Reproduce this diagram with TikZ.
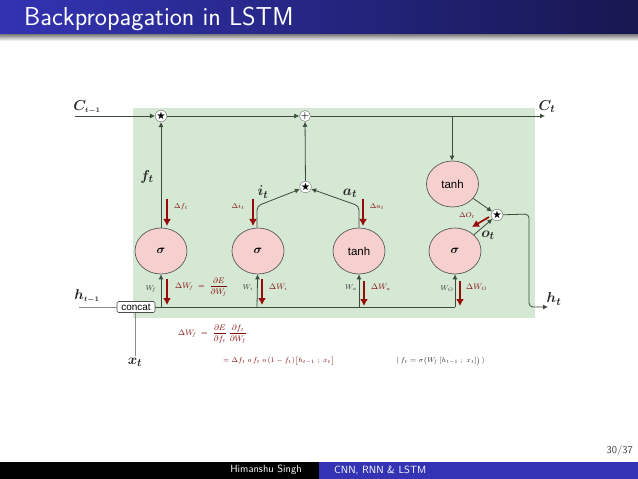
\documentclass[tikz,border=0pt]{standalone}
\usepackage{amsmath,amssymb}
\usepackage{fontspec}
\newfontfamily\helv{Liberation Sans}
\usetikzlibrary{arrows.meta,calc,shapes.geometric}
\definecolor{gr}{RGB}{213,232,212}
\definecolor{pk}{RGB}{246,208,206}
\definecolor{dred}{RGB}{150,10,10}
\definecolor{lin}{RGB}{60,75,60}
\definecolor{bbl}{RGB}{51,51,179}
\tikzset{
 x=1bp,y=-1bp,
 cell/.style={draw=black!65,fill=pk,ellipse,minimum width=52bp,minimum height=46bp,inner sep=0pt,line width=.7pt,font=\fontsize{13}{14}\selectfont},
 op/.style={draw=black!50,fill=white,circle,minimum size=11bp,inner sep=0pt,line width=.5pt,font=\small},
 conn/.style={draw=lin,line width=.8pt,-{Latex[length=5bp,width=5bp]},rounded corners=4bp},
 plainc/.style={draw=lin,line width=.8pt},
 grad/.style={draw=dred,line width=1.7pt,-{Latex[length=7bp,width=8bp]}},
 redt/.style={text=dred!85!black,font=\fontsize{7}{8}\selectfont,inner sep=0pt},
 redw/.style={redt,anchor=west,font=\fontsize{7.8}{9}\selectfont},
 lab/.style={font=\boldmath\fontsize{15}{16}\selectfont,inner sep=0pt,text=black!85},
 wlab/.style={font=\fontsize{7.5}{8}\selectfont,inner sep=0pt,text=black!80},
 tanht/.style={font=\helv\fontsize{11.5}{12}\selectfont},
 foot/.style={text=white,font=\sffamily\fontsize{10.5}{12}\selectfont,inner sep=0pt},
}
\begin{document}
\begin{tikzpicture}
\useasboundingbox (0,0) rectangle (638,479);
\fill[white] (0,0) rectangle (638,479);
% title bar
\shade[left color=bbl,right color=bbl!45!black] (0,0) rectangle (638,35);
\shade[top color=black!45,bottom color=white] (0,35) rectangle (638,41);
\node[anchor=west,text=white,font=\sffamily\fontsize{26}{28}\selectfont,inner sep=0pt] (title) at (24,19) {Backpropagation in LSTM};
% footer
\fill[black] (0,462) rectangle (319,479);
\fill[bbl] (319,462) rectangle (638,479);
\node[foot] (auth) at (266,470) {Himanshu Singh};
\node[foot,anchor=west] (talk) at (334,470) {CNN, RNN \& LSTM};
\node[foot,text=black!75,anchor=east] (page) at (633,451) {30/37};
% panel
\fill[gr] (133,108) rectangle (535,318);
% coordinates
\coordinate (cin) at (75,116);
\coordinate (cout) at (545,116);
\coordinate (hin) at (79,307);
\coordinate (hout) at (548,307);
\coordinate (xin) at (135,356);
\coordinate (tap) at (452,116);
% ops
\node[op] (s1) at (161,116) {$\bigstar$};
\node[op] (plus) at (305,116) {$\boldsymbol{+}$};
\node[op] (s2) at (305.5,187) {$\bigstar$};
\node[op] (s3) at (497,215) {$\bigstar$};
% cells
\node[cell] (sf) at (161,251) {$\boldsymbol{\sigma}$};
\node[cell] (si) at (258,251) {$\boldsymbol{\sigma}$};
\node[cell,tanht] (ta) at (359,251) {tanh};
\node[cell] (so) at (455,251) {$\boldsymbol{\sigma}$};
\node[cell,tanht] (tt) at (452.5,184) {tanh};
% main lines
\draw[conn] (cin) -- (s1);
\draw[conn] (s1) -- (plus);
\draw[conn] (plus) -- (cout);
\draw[conn] (tap) -- (tap |- tt.north);
\draw[conn] (sf) -- (s1);
\draw[conn] (s2) -- (plus);
\draw[conn] (si.north -| 257,0) -- (257,206) -- (s2);
\draw[conn] (ta.north -| 359,0) -- (359,206) -- (s2);
\draw[conn] (tt) -- (s3);
\draw[conn] (so) -- (s3);
\draw[conn] (s3) -- (529,214) -- (529,307) -- (hout);
% bottom line
\coordinate (bw) at (455,307);
\draw[plainc] (hin -| 155,0) -- (bw);
\draw[conn] (161,307) -- (sf);
\draw[conn] (257,307) -- (si);
\draw[conn] (359,307) -- (ta);
\draw[conn] (bw) -- (so);
\node[draw=black!70,fill=white,rounded corners=1.5bp,font=\helv\fontsize{10}{11}\selectfont,inner sep=0pt,minimum width=38bp,minimum height=11bp,line width=.6pt] (concat) at (136,307) {concat};
\draw[draw=black!45,line width=.8pt] (hin) -- (concat);
\draw[draw=black!45,line width=.8pt] (xin) -- (concat.south -| xin);
% grads
\draw[grad] (167,199) -- (167,226);
\draw[grad] (253,199) -- (253,226);
\draw[grad] (363,199) -- (363,226);
\draw[grad] (489,217) -- (472,227);
\draw[grad] (167,279) -- (167,305);
\draw[grad] (262,279) -- (262,305);
\draw[grad] (364,281) -- (364,306);
\draw[grad] (460,281) -- (460,306);
% labels
\node[lab] (lc0) at (87,107) {$C_{\scriptscriptstyle t-1}$};
\node[lab] (lc1) at (547,107) {$C_t$};
\node[lab] (lh0) at (87,296) {$h_{\scriptscriptstyle t-1}$};
\node[lab] (lh1) at (554,299) {$h_t$};
\node[lab] (lx) at (135,362) {$x_t$};
\node[lab] (lf) at (147,177) {$f_t$};
\node[lab] (li) at (263,192) {$i_t$};
\node[lab] (la) at (350,193) {$a_t$};
\node[lab] (lo) at (488,235) {$o_t$};
\node[redt] (df) at (181,207) {$\Delta f_t$};
\node[redt] (di) at (238,207) {$\Delta i_t$};
\node[redt] (da) at (377,207) {$\Delta a_t$};
\node[redt] (dO) at (467,216) {$\Delta O_t$};
\node[wlab] (wf) at (151,289) {$W_{\!f}$};
\node[wlab] (wi) at (248,288) {$W_i$};
\node[wlab] (wa) at (351,288) {$W_a$};
\node[wlab] (wo) at (447,289) {$W_O$};
\node[redw] (dwf) at (175,287) {$\Delta W_{\!f}\;=\;\dfrac{\partial E}{\partial W_{\!f}}$};
\node[redw] (dwi) at (269,287) {$\Delta W_i$};
\node[redw] (dwa) at (371,287) {$\Delta W_a$};
\node[redw] (dwo) at (466,287) {$\Delta W_O$};
\node[redw] (eq1) at (178,334) {$\Delta W_{\!f}\;=\;\dfrac{\partial E}{\partial f_t}\,\dfrac{\partial f_t}{\partial W_{\!f}}$};
\node[redt,anchor=west,font=\fontsize{6.9}{8}\selectfont] (eq2) at (223,361) {$=\Delta f_t\;o\,f_t\;o\,(1-f_t)\big[h_{t-1}\;;\;x_t\big]$};
\node[anchor=west,inner sep=0pt,text=black!80,font=\fontsize{7.1}{8}\selectfont] (eq3) at (396,361) {$(\,f_t=\sigma\big(W_{\!f}\,[h_{t-1}\;;\;x_t]\big)\,)$};
\end{tikzpicture}
\end{document}
